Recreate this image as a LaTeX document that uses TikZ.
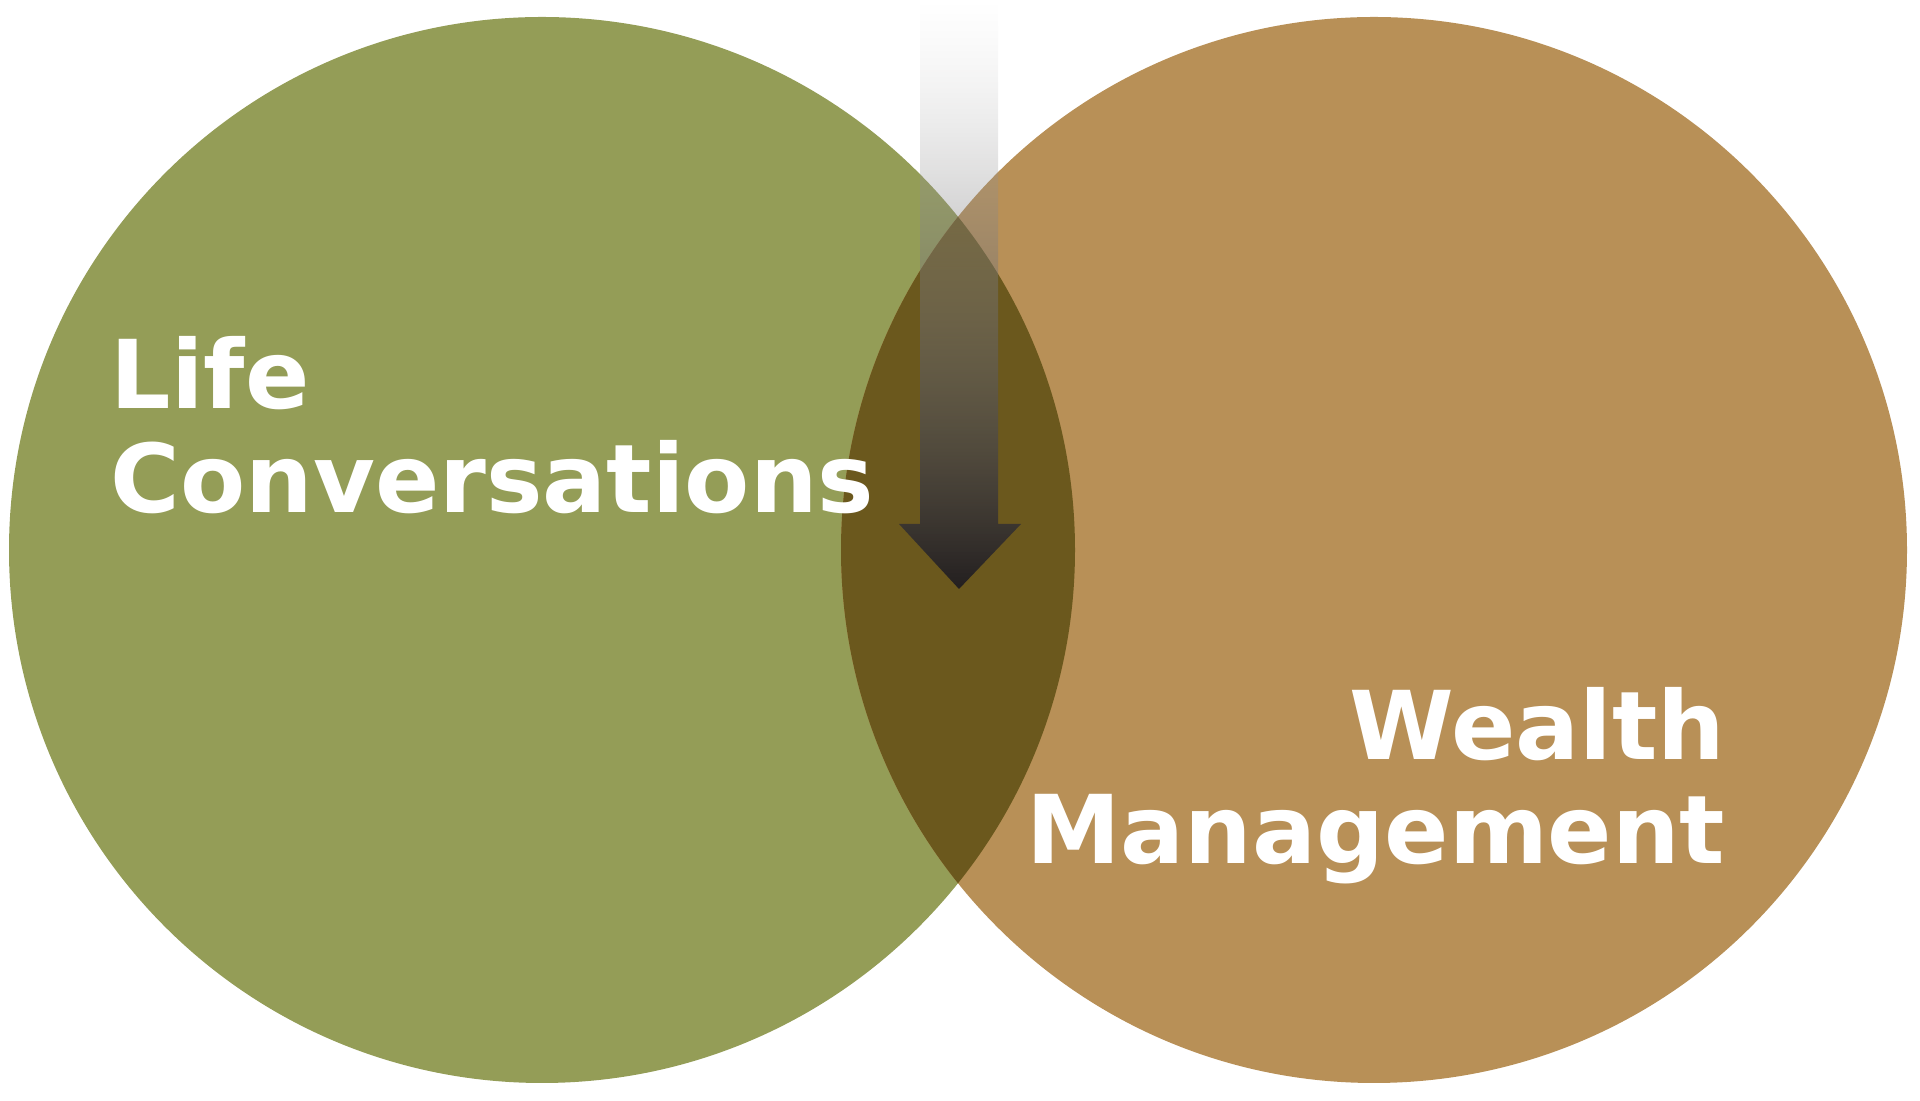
\documentclass[tikz,border=0pt]{standalone}
\usepackage{fontspec}
\newfontfamily\vennfont{DejaVu Sans}
\usetikzlibrary{fadings}
\definecolor{lifegreen}{HTML}{949D57}
\definecolor{wealthtan}{HTML}{B89057}
\definecolor{overlapbrown}{HTML}{6B581D}
\definecolor{arrowtop}{HTML}{C4C4C4}
\definecolor{arrowbot}{HTML}{231F20}
\tikzfading[name=arrowfade, top color=transparent!100, bottom color=transparent!0]
\begin{document}
\begin{tikzpicture}[x=0.01cm,y=-0.01cm,
  lbl/.style={text=white,inner sep=0pt,align=left,font=\vennfont\bfseries\fontsize{27}{29.6}\selectfont}]
  \useasboundingbox (0,0) rectangle (1920,1101);
  \fill[lifegreen] (542,550) circle [radius=533];
  \fill[wealthtan] (1374,550) circle [radius=533];
  \begin{scope}
    \clip (542,550) circle [radius=533];
    \fill[overlapbrown] (1374,550) circle [radius=533];
  \end{scope}
  \shade[top color=arrowtop,bottom color=arrowbot,path fading=arrowfade]
    (920,0) -- (998,0) -- (998,524) -- (1021,524) -- (959,589) -- (899,524) -- (920,524) -- cycle;
  \node[lbl,anchor=base west] (life) at (110,513) {Life\\Conversations};
  \node[lbl,anchor=base east,align=right] (wealth) at (1726,864) {Wealth\\Management};
\end{tikzpicture}
\end{document}
